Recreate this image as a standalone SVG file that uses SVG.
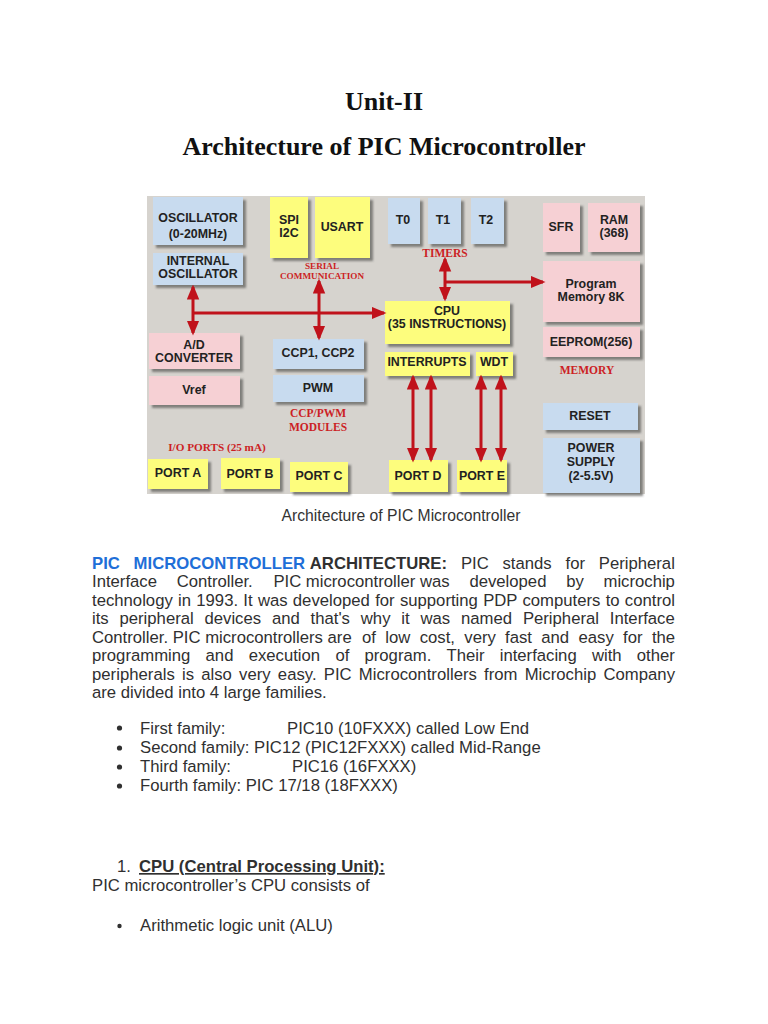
<svg xmlns="http://www.w3.org/2000/svg" width="768" height="1024" viewBox="0 0 768 1024">
<defs>
<style>
.t{font-family:"Liberation Serif","Times New Roman",serif;font-weight:bold;fill:#111;font-size:26px;text-anchor:middle}
.lb{font-family:"Liberation Sans",Arial,sans-serif;font-weight:bold;font-size:12.4px;fill:#222;text-anchor:middle}
.red{font-family:"Liberation Serif","Times New Roman",serif;font-weight:bold;fill:#cc1f25;text-anchor:middle}
.body{font-family:"Liberation Sans",Arial,sans-serif;font-size:16.7px;fill:#303030}
.bold{font-weight:bold}
.blue{fill:#1f6fd8;font-weight:bold}
.bl{fill:#c8dbef}
.ye{fill:#fdfd7d}
.pk{fill:#f6d0d4}
.box{filter:url(#sh)}
.ar{stroke:#c0121b;stroke-width:3;fill:none;marker-end:url(#ah)}
.ar2{stroke:#c0121b;stroke-width:3;fill:none;marker-end:url(#ah);marker-start:url(#ah)}
</style>
<filter id="sh" x="-20%" y="-20%" width="150%" height="150%">
<feDropShadow dx="3" dy="3" stdDeviation="1.3" flood-color="#5a5856" flood-opacity="0.7"/>
</filter>
<marker id="ah" markerUnits="userSpaceOnUse" markerWidth="15" markerHeight="13" refX="10" refY="5" orient="auto-start-reverse" viewBox="0 0 12 10">
<path d="M0,0 L12,5 L0,10 z" fill="#c0121b"/>
</marker>
</defs>
<rect width="768" height="1024" fill="#ffffff"/>
<text class="t" x="384" y="110">Unit-II</text>
<text class="t" x="384" y="155">Architecture of PIC Microcontroller</text>

<rect x="147" y="196" width="498" height="298" fill="#d6d3ce"/>

<g id="osc"><rect class="box bl" x="153" y="197" width="90" height="48"/><text class="lb" x="198" y="222">OSCILLATOR</text><text class="lb" x="198" y="238">(0-20MHz)</text></g>
<g id="intosc"><rect class="box bl" x="153" y="253" width="90" height="32"/><text class="lb" x="198" y="265">INTERNAL</text><text class="lb" x="198" y="278">OSCILLATOR</text></g>
<g id="spi"><rect class="box ye" x="270" y="197" width="38" height="61"/><text class="lb" x="289" y="224">SPI</text><text class="lb" x="289" y="237">I2C</text></g>
<g id="usart"><rect class="box ye" x="315" y="197" width="55" height="61"/><text class="lb" x="342" y="231">USART</text></g>
<text class="red" font-size="9.2" x="322" y="269">SERIAL</text>
<text class="red" font-size="9.2" x="322" y="279">COMMUNICATION</text>
<g id="t0"><rect class="box bl" x="388" y="198" width="32" height="46"/><text class="lb" x="403" y="224">T0</text></g>
<g id="t1"><rect class="box bl" x="428" y="198" width="33" height="46"/><text class="lb" x="443" y="224">T1</text></g>
<g id="t2"><rect class="box bl" x="471" y="198" width="33" height="46"/><text class="lb" x="486" y="224">T2</text></g>
<text class="red" font-size="11.5" x="445" y="257">TIMERS</text>
<g id="sfr"><rect class="box pk" x="543" y="203" width="37" height="49"/><text class="lb" x="561" y="231">SFR</text></g>
<g id="ram"><rect class="box pk" x="588" y="203" width="52" height="49"/><text class="lb" x="614" y="224">RAM</text><text class="lb" x="614" y="237">(368)</text></g>
<g id="progmem"><rect class="box pk" x="543" y="261" width="97" height="61"/><text class="lb" x="591" y="288">Program</text><text class="lb" x="591" y="301">Memory 8K</text></g>
<g id="eeprom"><rect class="box pk" x="543" y="327" width="97" height="30"/><text class="lb" x="591" y="346">EEPROM(256)</text></g>
<text class="red" font-size="11.5" x="587" y="374">MEMORY</text>
<g id="reset"><rect class="box bl" x="543" y="403" width="95" height="27"/><text class="lb" x="590" y="420">RESET</text></g>
<g id="power"><rect class="box bl" x="543" y="438" width="97" height="55"/><text class="lb" x="591" y="452">POWER</text><text class="lb" x="591" y="466">SUPPLY</text><text class="lb" x="591" y="480">(2-5.5V)</text></g>
<g id="cpu"><rect class="box ye" x="385" y="301" width="125" height="43"/><text class="lb" x="447" y="315">CPU</text><text class="lb" x="447" y="328">(35 INSTRUCTIONS)</text></g>
<g id="interrupts"><rect class="box ye" x="385" y="352" width="85" height="24"/><text class="lb" x="427" y="366">INTERRUPTS</text></g>
<g id="wdt"><rect class="box ye" x="476" y="352" width="37" height="24"/><text class="lb" x="494" y="366">WDT</text></g>
<g id="portd"><rect class="box ye" x="389" y="460" width="59" height="32"/><text class="lb" x="418" y="480">PORT D</text></g>
<g id="porte"><rect class="box ye" x="457" y="460" width="50" height="32"/><text class="lb" x="482" y="480">PORT E</text></g>
<g id="adc"><rect class="box pk" x="149" y="333" width="91" height="36"/><text class="lb" x="194" y="349">A/D</text><text class="lb" x="194" y="362">CONVERTER</text></g>
<g id="vref"><rect class="box pk" x="149" y="376" width="91" height="29"/><text class="lb" x="194" y="394">Vref</text></g>
<g id="ccp"><rect class="box bl" x="273" y="339" width="91" height="30"/><text class="lb" x="318" y="357">CCP1, CCP2</text></g>
<g id="pwm"><rect class="box bl" x="273" y="375" width="91" height="27"/><text class="lb" x="318" y="392">PWM</text></g>
<text class="red" font-size="11.5" x="318" y="417">CCP/PWM</text>
<text class="red" font-size="11.5" x="318" y="431">MODULES</text>
<text class="red" font-size="11.2" x="217" y="451">I/O PORTS (25 mA)</text>
<g id="porta"><rect class="box ye" x="148" y="459" width="60" height="30"/><text class="lb" x="178" y="477">PORT A</text></g>
<g id="portb"><rect class="box ye" x="221" y="458" width="59" height="31"/><text class="lb" x="250" y="478">PORT B</text></g>
<g id="portc"><rect class="box ye" x="290" y="462" width="58" height="30"/><text class="lb" x="319" y="480">PORT C</text></g>

<g id="connectors">
<line class="ar2" x1="193" y1="287" x2="193" y2="333"/>
<line class="ar" x1="193" y1="313" x2="384" y2="313"/>
<line class="ar2" x1="319" y1="281" x2="319" y2="338"/>
<line class="ar2" x1="445" y1="259" x2="445" y2="299"/>
<line class="ar" x1="445" y1="282" x2="543" y2="282"/>
<line class="ar2" x1="413" y1="377" x2="413" y2="460"/>
<line class="ar2" x1="431" y1="377" x2="431" y2="460"/>
<line class="ar2" x1="481" y1="377" x2="481" y2="460"/>
<line class="ar2" x1="501" y1="377" x2="501" y2="460"/>
</g>

<text x="401" y="521" font-family="Liberation Sans,Arial,sans-serif" font-size="15.7" fill="#333" text-anchor="middle">Architecture of PIC Microcontroller</text>

<text class="body" y="569"><tspan class="blue" x="92">PIC</tspan><tspan class="blue" x="133.6">MICROCONTROLLER</tspan><tspan class="bold" x="309.8">ARCHITECTURE:</tspan><tspan x="460.9">PIC</tspan><tspan x="502.5">stands</tspan><tspan x="565.5">for</tspan><tspan x="598.8">Peripheral</tspan></text>
<text class="body" y="587.4"><tspan x="92">Interface</tspan><tspan x="176.7">Controller.</tspan><tspan x="273.4">PIC microcontroller was</tspan><tspan x="469.4">developed</tspan><tspan x="566.2">by</tspan><tspan x="603.5">microchip</tspan></text>
<text class="body" x="92" y="605.9" word-spacing="0.6" textLength="583" lengthAdjust="spacing">technology in 1993. It was developed for supporting PDP computers to control</text>
<text class="body" y="624.3"><tspan x="92">its</tspan><tspan x="119.5">peripheral</tspan><tspan x="204.5">devices</tspan><tspan x="271.9">and</tspan><tspan x="310.6">that's</tspan><tspan x="360.8">why</tspan><tspan x="401.3">it</tspan><tspan x="420.5">was</tspan><tspan x="461">named</tspan><tspan x="522.9">Peripheral</tspan><tspan x="609.8">Interface</tspan></text>
<text class="body" y="642.7"><tspan x="92">Controller. PIC microcontrollers are</tspan><tspan x="362.1">of</tspan><tspan x="385.3">low</tspan><tspan x="419.7">cost,</tspan><tspan x="464.3">very</tspan><tspan x="505.1">fast</tspan><tspan x="541.3">and</tspan><tspan x="578.5">easy</tspan><tspan x="623.1">for</tspan><tspan x="651.9">the</tspan></text>
<text class="body" y="661.1"><tspan x="92">programming</tspan><tspan x="205.6">and</tspan><tspan x="248.7">execution</tspan><tspan x="335.4">of</tspan><tspan x="364.5">program.</tspan><tspan x="446.5">Their</tspan><tspan x="499.7">interfacing</tspan><tspan x="591.9">with</tspan><tspan x="636.8">other</tspan></text>
<text class="body" x="92" y="679.6" word-spacing="2.5" textLength="583" lengthAdjust="spacing">peripherals is also very easy. PIC Microcontrollers from Microchip Company</text>
<text class="body" x="92" y="698">are divided into 4 large families.</text>

<g class="body">
<circle cx="119.5" cy="728" r="2.6" fill="#303030"/>
<circle cx="119.5" cy="748" r="2.6" fill="#303030"/>
<circle cx="119.5" cy="767" r="2.6" fill="#303030"/>
<circle cx="119.5" cy="786" r="2.6" fill="#303030"/>
<circle cx="119.5" cy="926" r="2.2" fill="#303030"/>
</g>
<text class="body" x="140" y="734">First family:</text>
<text class="body" x="287" y="734">PIC10 (10FXXX) called Low End</text>
<text class="body" x="140" y="753">Second family: PIC12 (PIC12FXXX) called Mid-Range</text>
<text class="body" x="140" y="772">Third family:</text>
<text class="body" x="292" y="772">PIC16 (16FXXX)</text>
<text class="body" x="140" y="791">Fourth family: PIC 17/18 (18FXXX)</text>

<text class="body" x="117" y="872">1.</text>
<text class="body bold" x="139" y="872" text-decoration="underline">CPU (Central Processing Unit):</text>
<text class="body" x="92" y="891">PIC microcontroller’s CPU consists of</text>
<text class="body" x="140" y="931">Arithmetic logic unit (ALU)</text>
</svg>
